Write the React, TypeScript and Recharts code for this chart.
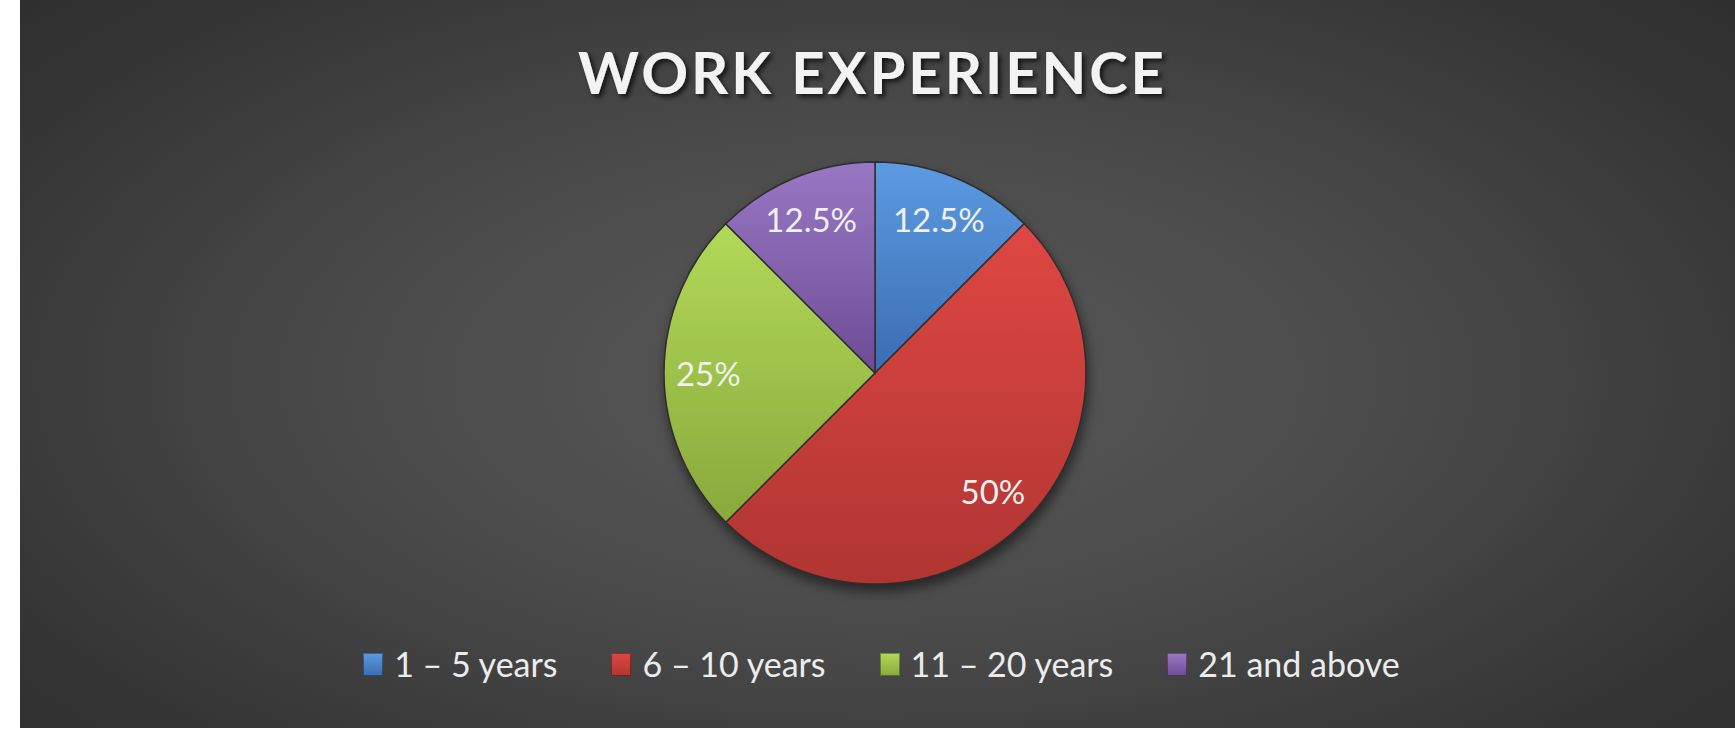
import React from 'react';
import { PieChart, Pie, Cell, Legend } from 'recharts';

// chart values
const categories = ['1 – 5 years', '6 – 10 years', '11 – 20 years', '21 and above'];
const shares = [12.5, 50, 25, 12.5];
const topColors = ['#5d9be2', '#df4743', '#b2d958', '#9878c4'];
const bottomColors = ['#3a6cb0', '#b03532', '#89a93c', '#6d4b97'];

const data = categories.map((name, i) => ({ name, value: shares[i] }));

const RADIAN = Math.PI / 180;

const renderLabel = ({ cx, cy, midAngle, outerRadius, value }: any) => {
  const r = outerRadius * 0.79;
  const x = cx + r * Math.cos(-midAngle * RADIAN);
  const y = cy + r * Math.sin(-midAngle * RADIAN);
  return (
    <text
      x={x}
      y={y}
      fill="#f0f0f0"
      textAnchor="middle"
      dominantBaseline="central"
      fontFamily="Lato, sans-serif"
      fontSize={33}
    >
      {value}%
    </text>
  );
};

// legend keeps the data order (recharts would sort it by name)
const renderLegend = () => (
  <div
    style={{
      display: 'flex',
      justifyContent: 'center',
      alignItems: 'center',
      paddingLeft: 8,
      fontFamily: 'Lato, sans-serif',
      fontSize: 34,
      lineHeight: '40px',
      color: '#ececec',
    }}
  >
    {categories.map((name, i) => (
      <div key={name} style={{ display: 'flex', alignItems: 'center', marginLeft: i === 0 ? 0 : 54 }}>
        <span
          style={{
            display: 'inline-block',
            width: 20,
            height: 23,
            marginRight: 11,
            background: `linear-gradient(to bottom, ${topColors[i]}, ${bottomColors[i]})`,
            boxShadow: 'inset 0 0 0 1px rgba(0,0,0,0.35)',
          }}
        />
        <span>{name}</span>
      </div>
    ))}
  </div>
);

export default function App() {
  return (
    <div style={{ position: 'absolute', left: 0, top: 0, width: 1735, height: 730, background: '#ffffff' }}>
      <div
        style={{
          position: 'absolute',
          left: 20,
          top: 0,
          width: 1715,
          height: 728,
          overflow: 'hidden',
          background: 'radial-gradient(ellipse 70% 80% at 50% 52%, #585858 0%, #4c4c4c 40%, #363636 80%, #2d2d2d 100%)',
        }}
      >
        <style>{'.recharts-pie{filter:drop-shadow(2px 7px 6px rgba(0,0,0,0.5));}'}</style>
        <PieChart width={1715} height={728} margin={{ top: 0, right: 0, bottom: 0, left: 0 }}>
          <defs>
            {categories.map((c, i) => (
              <linearGradient key={c} id={`slice${i}`} x1="0" y1="0" x2="0" y2="1">
                <stop offset="0%" stopColor={topColors[i]} />
                <stop offset="100%" stopColor={bottomColors[i]} />
              </linearGradient>
            ))}
          </defs>
          <Pie
            data={data}
            dataKey="value"
            nameKey="name"
            cx={855}
            cy={373}
            outerRadius={211}
            startAngle={90}
            endAngle={-270}
            stroke="#2e2e2e"
            strokeWidth={1.5}
            label={renderLabel}
            labelLine={false}
            isAnimationActive={false}
          >
            {data.map((d, i) => (
              <Cell key={d.name} fill={`url(#slice${i})`} />
            ))}
          </Pie>
          <Legend
            content={renderLegend}
            verticalAlign="bottom"
            wrapperStyle={{ position: 'absolute', top: 644, left: 0, width: 1715, height: 40 }}
          />
        </PieChart>
        <svg width={1715} height={130} style={{ position: 'absolute', left: 0, top: 0, pointerEvents: 'none' }}>
          <defs>
            <filter id="titleShadow" x="-5%" y="-30%" width="110%" height="160%">
              <feDropShadow dx="3" dy="3" stdDeviation="2.5" floodColor="#000" floodOpacity="0.7" />
            </filter>
          </defs>
          <text
            x={852.5}
            y={94}
            textAnchor="middle"
            fill="#f3f3f3"
            fontFamily="Lato, sans-serif"
            fontWeight={700}
            fontSize={58}
            letterSpacing={3}
            filter="url(#titleShadow)"
          >
            WORK EXPERIENCE
          </text>
        </svg>
      </div>
    </div>
  );
}
